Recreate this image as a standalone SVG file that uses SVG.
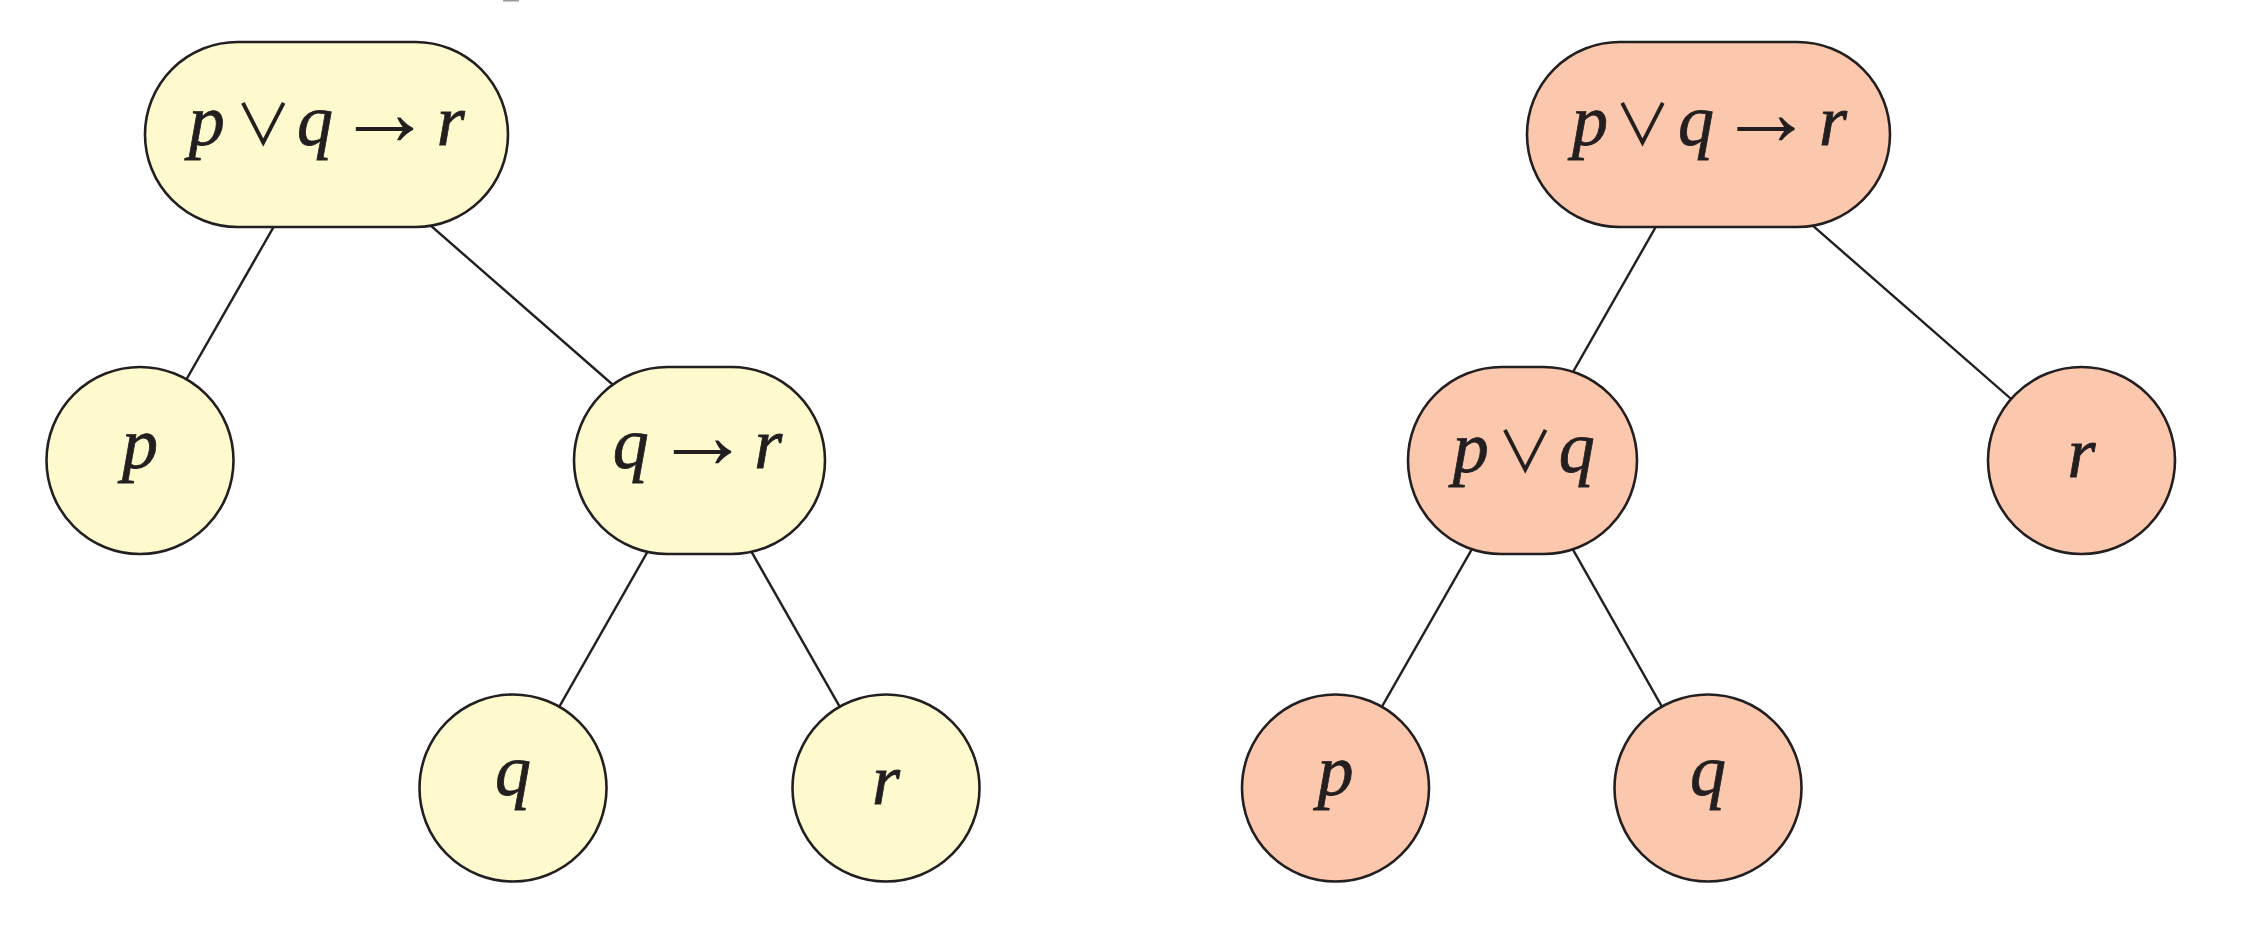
<svg xmlns="http://www.w3.org/2000/svg" width="2247" height="933" viewBox="0 0 2247 933">
<style>
.edge{stroke:#231F20;stroke-width:2.4;fill:none}
.y{fill:#FFF9CE;stroke:#231F20;stroke-width:2.6}
.o{fill:#FBC8AE;stroke:#231F20;stroke-width:2.6}
.t{font-family:"Liberation Serif","Times New Roman",serif;font-size:72px;fill:#231F20;text-anchor:middle}
.i{font-style:italic;stroke:#231F20;stroke-width:0.8}
.s{font-family:"Noto Sans CJK JP","DejaVu Sans",sans-serif;font-weight:400;font-style:normal;font-size:57px;stroke:none}
.a{font-family:"Liberation Serif","DejaVu Serif",serif;font-style:normal;font-size:97px;stroke:none}
</style>
<rect x="503" y="0" width="16" height="1.5" fill="#9a9a9a"/>
<g id="connectors">
<line class="edge" x1="326.5" y1="134.5" x2="140" y2="460.5"/>
<line class="edge" x1="326.5" y1="134.5" x2="699.5" y2="460.5"/>
<line class="edge" x1="699.5" y1="460.5" x2="513" y2="788"/>
<line class="edge" x1="699.5" y1="460.5" x2="886" y2="788"/>
<line class="edge" x1="1708.5" y1="134.5" x2="1522.5" y2="460.5"/>
<line class="edge" x1="1708.5" y1="134.5" x2="2081.5" y2="460.5"/>
<line class="edge" x1="1522.5" y1="460.5" x2="1335.5" y2="788"/>
<line class="edge" x1="1522.5" y1="460.5" x2="1708" y2="788"/>
</g>
<g id="L-root">
<rect class="y" x="145" y="42" width="363" height="185" rx="92.5"/>
<text class="t" y="145"><tspan class="i" x="206.7">p</tspan><tspan class="s" x="263.3">∨</tspan><tspan class="i" x="315">q</tspan><tspan class="a" x="384.5">→</tspan><tspan class="i" x="450.8">r</tspan></text>
</g>
<g id="L-p">
<circle class="y" cx="140" cy="460.5" r="93.5"/>
<text class="t i" x="140" y="467.5">p</text>
</g>
<g id="L-qr">
<rect class="y" x="574" y="367" width="251" height="187" rx="93.5"/>
<text class="t" y="468"><tspan class="i" x="630.8">q</tspan><tspan class="a" x="702.5">→</tspan><tspan class="i" x="768.3">r</tspan></text>
</g>
<g id="L-q">
<circle class="y" cx="513" cy="788" r="93.5"/>
<text class="t i" x="513" y="795">q</text>
</g>
<g id="L-r">
<circle class="y" cx="886" cy="788" r="93.5"/>
<text class="t i" x="886" y="803.5">r</text>
</g>
<g id="R-root">
<rect class="o" x="1527" y="42" width="363" height="185" rx="92.5"/>
<text class="t" y="145"><tspan class="i" x="1590">p</tspan><tspan class="s" x="1642.5">∨</tspan><tspan class="i" x="1696">q</tspan><tspan class="a" x="1766">→</tspan><tspan class="i" x="1833">r</tspan></text>
</g>
<g id="R-pq">
<rect class="o" x="1408" y="367" width="229" height="187" rx="93.5"/>
<text class="t" y="471.5"><tspan class="i" x="1470.8">p</tspan><tspan class="s" x="1525.3">∨</tspan><tspan class="i" x="1576.7">q</tspan></text>
</g>
<g id="R-r">
<circle class="o" cx="2081.5" cy="460.5" r="93.5"/>
<text class="t i" x="2081.5" y="477">r</text>
</g>
<g id="R-p">
<circle class="o" cx="1335.5" cy="788" r="93.5"/>
<text class="t i" x="1335.5" y="795">p</text>
</g>
<g id="R-q">
<circle class="o" cx="1708" cy="788" r="93.5"/>
<text class="t i" x="1708" y="795">q</text>
</g>
</svg>
